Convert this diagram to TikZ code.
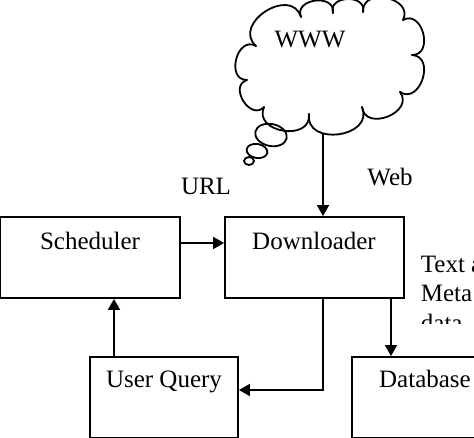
\documentclass[tikz,border=0pt]{standalone}
\usepackage{fontspec}
\setmainfont{Liberation Serif}
\usetikzlibrary{shapes.geometric,arrows.meta,calc}
\begin{document}
\begin{tikzpicture}[x=1pt,y=-1pt,line width=1.8pt,
  box/.style={draw,rectangle,inner sep=0pt},
  lbl/.style={font=\fontsize{25}{29}\selectfont,inner sep=0pt,anchor=base},
  arr/.style={-{Triangle[length=11pt,width=12pt]}},
  bubble/.style={draw,ellipse,inner sep=0pt}]
\useasboundingbox (0,0) rectangle (474,438);
\clip (0,0) rectangle (474,438);
% cloud cusps (clockwise on screen)
\coordinate (c1) at (256,46);
\coordinate (c2) at (301,17);
\coordinate (c3) at (333,13);
\coordinate (c4) at (363,12);
\coordinate (c5) at (403,20);
\coordinate (c6) at (412,55);
\coordinate (c7) at (400,92);
\coordinate (c8) at (362,107);
\coordinate (c9) at (309,114);
\coordinate (c10) at (264,107);
\coordinate (c11) at (247,80);
\foreach \p/\q in {c1/c2,c2/c3,c3/c4,c4/c5,c5/c6,c6/c7,c7/c8,c8/c9,c9/c10,c10/c11,c11/c1}
  \draw[line cap=round] (\p) .. controls ($(\p)!0.62!105:(\q)$) and ($(\q)!0.62!-105:(\p)$) .. (\q);
% thought bubbles
\node[bubble,minimum width=32pt,minimum height=22pt,rotate=-12] (b1) at (271,135) {};
\node[bubble,minimum width=21pt,minimum height=14pt,rotate=-10] (b2) at (257,151) {};
\node[bubble,minimum width=10pt,minimum height=8pt] (b3) at (249,161) {};
\node[lbl] (wwwt) at (310,48) {WWW};
% boxes
\node[box,minimum width=179.5pt,minimum height=81pt] (sch) at (90.25,257.5) {};
\node[box,minimum width=179pt,minimum height=81pt] (dl) at (314.5,257.5) {};
\node[box,minimum width=148pt,minimum height=81pt] (uq) at (164,397.5) {};
\node[box,minimum width=168pt,minimum height=81pt] (db) at (436,397.5) {};
\node[lbl] (scht) at (90,250) {Scheduler};
\node[lbl] (dlt) at (314,250) {Downloader};
\node[lbl] (uqt) at (164,388) {User Query};
\node[lbl] (dbt) at (425,388) {Database};
\node[lbl] (url) at (206,195) {URL};
\node[lbl] (web) at (390,186) {Web};
\node[lbl,anchor=base west] (tm1) at (420,273) {Text and};
\node[lbl,anchor=base west] (tm2) at (420,302) {Meta};
\begin{scope}
\clip (400,300) rectangle (474,324);
\node[lbl,anchor=base west] (tm3) at (420,331) {data};
\end{scope}
% connectors
\coordinate (cb) at ([xshift=8.5pt]dl.north |- 0,133);
\draw[arr] (cb) -- ([xshift=8.5pt]dl.north);
\draw[arr] ([yshift=14.5pt]sch.east) -- ([yshift=14.5pt]dl.west);
\draw[arr] ([xshift=-50pt]uq.north) -- ([xshift=-50pt]uq.north |- sch.south);
\draw[arr] ([xshift=8.5pt]dl.south) |- ([yshift=7.5pt]uq.east);
\draw[arr] ([xshift=76.5pt]dl.south) -- ([xshift=76.5pt]dl.south |- db.north);
\end{tikzpicture}
\end{document}
